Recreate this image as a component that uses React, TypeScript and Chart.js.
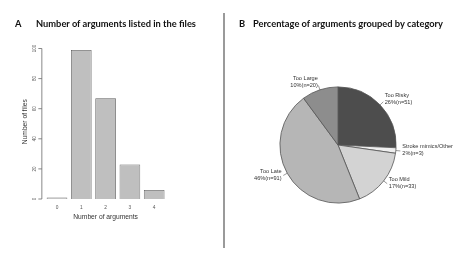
import React, { useEffect, useRef } from "react";
import { Chart, registerables } from "chart.js";

Chart.register(...registerables);

// ---- Data ----
const argCounts = ["0", "1", "2", "3", "4"];
const fileCounts = [1, 99, 67, 23, 6];
const yTickValues = [0, 20, 40, 60, 80, 100];

const categoryNames = ["Too Risky", "Stroke mimics/Other", "Too Mild", "Too Late", "Too Large"];
const categoryCounts = [51, 3, 33, 91, 20];
const categoryPercents = [26, 2, 17, 46, 10];

// ---- Styles ----
const pieColors = ["#4d4d4d", "#eeeeee", "#d3d3d3", "#b6b6b6", "#8d8d8d"];
const LABEL_FONT = "'Liberation Sans', Arial, sans-serif";

const rAxisPlugin = {
  id: "rAxis",
  afterDraw(chart: any) {
    const ctx = chart.ctx;
    const ys = chart.scales.y;
    const area = chart.chartArea;
    const x0 = area.left - 3;
    const vals = ys.ticks.map((t: any) => t.value);
    ctx.save();
    ctx.strokeStyle = "#6a6a6a";
    ctx.lineWidth = 0.8;
    ctx.beginPath();
    ctx.moveTo(x0, ys.getPixelForValue(vals[0]));
    ctx.lineTo(x0, ys.getPixelForValue(vals[vals.length - 1]));
    vals.forEach((v: number) => {
      const py = ys.getPixelForValue(v);
      ctx.moveTo(x0, py);
      ctx.lineTo(x0 - 3.5, py);
    });
    ctx.stroke();
    ctx.fillStyle = "#555";
    ctx.font = `4.5px ${LABEL_FONT}`;
    ctx.textAlign = "center";
    ctx.textBaseline = "bottom";
    vals.forEach((v: number) => {
      const py = ys.getPixelForValue(v);
      ctx.save();
      ctx.translate(x0 - 5, py);
      ctx.rotate(-Math.PI / 2);
      ctx.fillText(String(v), 0, 0);
      ctx.restore();
    });
    ctx.fillStyle = "#333";
    ctx.font = `6.7px ${LABEL_FONT}`;
    ctx.textBaseline = "middle";
    ctx.save();
    ctx.translate(area.left - 20, (area.top + area.bottom) / 2 - 2);
    ctx.rotate(-Math.PI / 2);
    ctx.fillText("Number of files", 0, 0);
    ctx.restore();
    ctx.restore();
  },
};

const pieLabelPlugin = {
  id: "pieLabels",
  afterDatasetsDraw(chart: any) {
    const ctx = chart.ctx;
    const meta = chart.getDatasetMeta(0);
    ctx.save();
    ctx.font = `5.6px ${LABEL_FONT}`;
    ctx.fillStyle = "#333";
    ctx.strokeStyle = "#555";
    ctx.lineWidth = 0.6;
    meta.data.forEach((arc: any, i: number) => {
      const p = arc.getProps(["x", "y", "startAngle", "endAngle", "outerRadius"], true);
      const mid = (p.startAngle + p.endAngle) / 2;
      const c = Math.cos(mid);
      const s = Math.sin(mid);
      const r = p.outerRadius;
      ctx.beginPath();
      ctx.moveTo(p.x + r * c, p.y + r * s);
      ctx.lineTo(p.x + (r + 4.5) * c, p.y + (r + 4.5) * s);
      ctx.stroke();
      const ax = p.x + (r + 6.5) * c;
      const ay = p.y + (r + 6.5) * s - 1.5;
      ctx.textAlign = c >= 0 ? "left" : "right";
      ctx.textBaseline = "middle";
      const lines = [categoryNames[i], `${categoryPercents[i]}%(n=${categoryCounts[i]})`];
      ctx.fillText(lines[0], ax, ay - 3.5);
      ctx.fillText(lines[1], ax, ay + 3.5);
    });
    ctx.restore();
  },
};

function BarChart() {
  const ref = useRef<HTMLCanvasElement>(null);
  useEffect(() => {
    const chart = new Chart(ref.current as HTMLCanvasElement, {
      type: "bar",
      data: {
        labels: argCounts,
        datasets: [
          {
            data: fileCounts,
            backgroundColor: "#bfbfbf",
            borderColor: "#5e5e5e",
            borderWidth: 0.8,
            barPercentage: 0.85,
            categoryPercentage: 1,
          },
        ],
      },
      options: {
        animation: false,
        responsive: false,
        maintainAspectRatio: false,
        layout: { padding: { left: 44.85, right: 57.65, top: 48.5, bottom: 24 } },
        plugins: { legend: { display: false }, tooltip: { enabled: false } },
        scales: {
          x: {
            grid: { display: false, drawTicks: false },
            border: { display: false },
            ticks: { color: "#555", font: { size: 4.8, family: LABEL_FONT }, padding: 6 },
            title: {
              display: true,
              text: "Number of arguments",
              color: "#333",
              font: { size: 6.7, family: LABEL_FONT },
              padding: { top: 0, bottom: 8 },
            },
            afterFit: (s: any) => {
              s.height = 30;
            },
          },
          y: {
            min: 0,
            max: 100,
            afterBuildTicks: (s: any) => {
              s.ticks = yTickValues.map((v) => ({ value: v }));
            },
            grid: { display: false, drawTicks: false },
            border: { display: false },
            ticks: { display: false },
            afterFit: (s: any) => {
              s.width = 0;
            },
          },
        },
      },
      plugins: [rAxisPlugin],
    });
    return () => chart.destroy();
  }, []);
  return (
    <canvas
      ref={ref}
      width={224}
      height={253}
      style={{ position: "absolute", left: 0, top: 0, width: 224, height: 253 }}
    />
  );
}

function PieChart() {
  const ref = useRef<HTMLCanvasElement>(null);
  useEffect(() => {
    const chart = new Chart(ref.current as HTMLCanvasElement, {
      type: "pie",
      data: {
        labels: categoryNames,
        datasets: [
          {
            data: categoryCounts,
            backgroundColor: pieColors,
            borderColor: "#555",
            borderWidth: 0.8,
          },
        ],
      },
      options: {
        animation: false,
        responsive: false,
        maintainAspectRatio: false,
        layout: { padding: { left: 54.5, right: 77.5, top: 86.5, bottom: 49.5 } },
        plugins: { legend: { display: false }, tooltip: { enabled: false } },
      },
      plugins: [pieLabelPlugin],
    });
    return () => chart.destroy();
  }, []);
  return (
    <canvas
      ref={ref}
      width={249}
      height={253}
      style={{ position: "absolute", left: 225, top: 0, width: 249, height: 253 }}
    />
  );
}

const titleStyle: React.CSSProperties = {
  position: "absolute",
  fontFamily: "Lato, 'Open Sans', sans-serif",
  fontWeight: 700,
  fontSize: 9.3,
  lineHeight: "10px",
  color: "#111",
  whiteSpace: "nowrap",
};

export default function App() {
  return (
    <div
      style={{
        position: "fixed",
        left: 0,
        top: 0,
        width: 474,
        height: 253,
        background: "#fff",
        overflow: "hidden",
      }}
    >
      <BarChart />
      <PieChart />
      <div style={{ ...titleStyle, left: 15, top: 19 }}>A</div>
      <div style={{ ...titleStyle, left: 36, top: 19 }}>Number of arguments listed in the files</div>
      <div style={{ ...titleStyle, left: 239, top: 19 }}>B</div>
      <div style={{ ...titleStyle, left: 253, top: 19 }}>Percentage of arguments grouped by category</div>
      <div
        style={{
          position: "absolute",
          left: 223,
          top: 13,
          width: 1.5,
          height: 235,
          background: "#9a9a9a",
        }}
      />
    </div>
  );
}
